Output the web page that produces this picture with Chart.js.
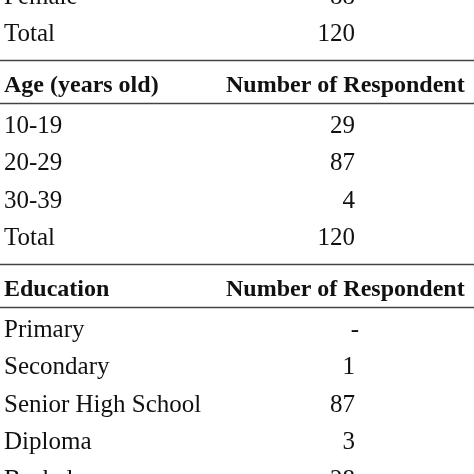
<!DOCTYPE html>
<html><head><meta charset="utf-8">
<script src="https://cdn.jsdelivr.net/npm/chart.js@4"></script>
<style>html,body{margin:0;padding:0;background:#fff}canvas{display:block}</style>
</head><body>
<canvas id="c" width="474" height="474"></canvas>
<script>
// table rows (label, value); headers mark a new section
const rowLabels = ["Female", "Total", "Age (years old)", "10-19", "20-29", "30-39", "Total",
  "Education", "Primary", "Secondary", "Senior High School", "Diploma", "Bachelor"];
const rowValues = ["88", "120", "Number of Respondent", "29", "87", "4", "120",
  "Number of Respondent", "-", "1", "87", "3", "28"];
const headerRows = [2, 7];

// row units: each row 1, extra gap around headers
const rowPos = [];
let u = 0;
rowLabels.forEach((l, i) => {
  if (headerRows.includes(i)) u += 0.38;
  if (headerRows.includes(i - 1)) u += 0.06;
  rowPos.push(u);
  u += 1;
});

const tablePlugin = {
  id: "table",
  afterDraw(chart) {
    const ctx = chart.ctx, y = chart.scales.y;
    ctx.save();
    ctx.textBaseline = "middle";
    ctx.fillStyle = "#111";
    rowLabels.forEach((label, i) => {
      const py = y.getPixelForValue(rowPos[i]);
      if (headerRows.includes(i)) {
        ctx.strokeStyle = "#444";
        ctx.lineWidth = 1.5;
        [rowPos[i] - 0.7, rowPos[i] + 0.45].forEach(v => {
          const ly = Math.round(y.getPixelForValue(v)) + 0.5;
          ctx.beginPath(); ctx.moveTo(0, ly); ctx.lineTo(474, ly); ctx.stroke();
        });
        ctx.font = "bold 24px 'Liberation Serif'";
        ctx.textAlign = "left";
        ctx.fillText(label, 4, py);
        ctx.fillText(rowValues[i], 226, py);
      } else {
        ctx.font = "25px 'Liberation Serif'";
        ctx.textAlign = "left";
        ctx.fillText(label, 4, py);
        ctx.textAlign = "right";
        ctx.fillText(rowValues[i], rowValues[i] === "-" ? 359 : 355, py);
      }
    });
    ctx.restore();
  }
};

new Chart(document.getElementById("c"), {
  type: "scatter",
  data: { datasets: [{ data: [] }] },
  options: {
    responsive: false,
    animation: false,
    layout: { padding: 0 },
    plugins: { legend: { display: false }, tooltip: { enabled: false } },
    scales: {
      x: { display: false, min: 0, max: 1 },
      y: { display: false, reverse: true, min: 0.08, max: 0.08 + 474 / 37.5 }
    }
  },
  plugins: [tablePlugin]
});
</script>
</body></html>
